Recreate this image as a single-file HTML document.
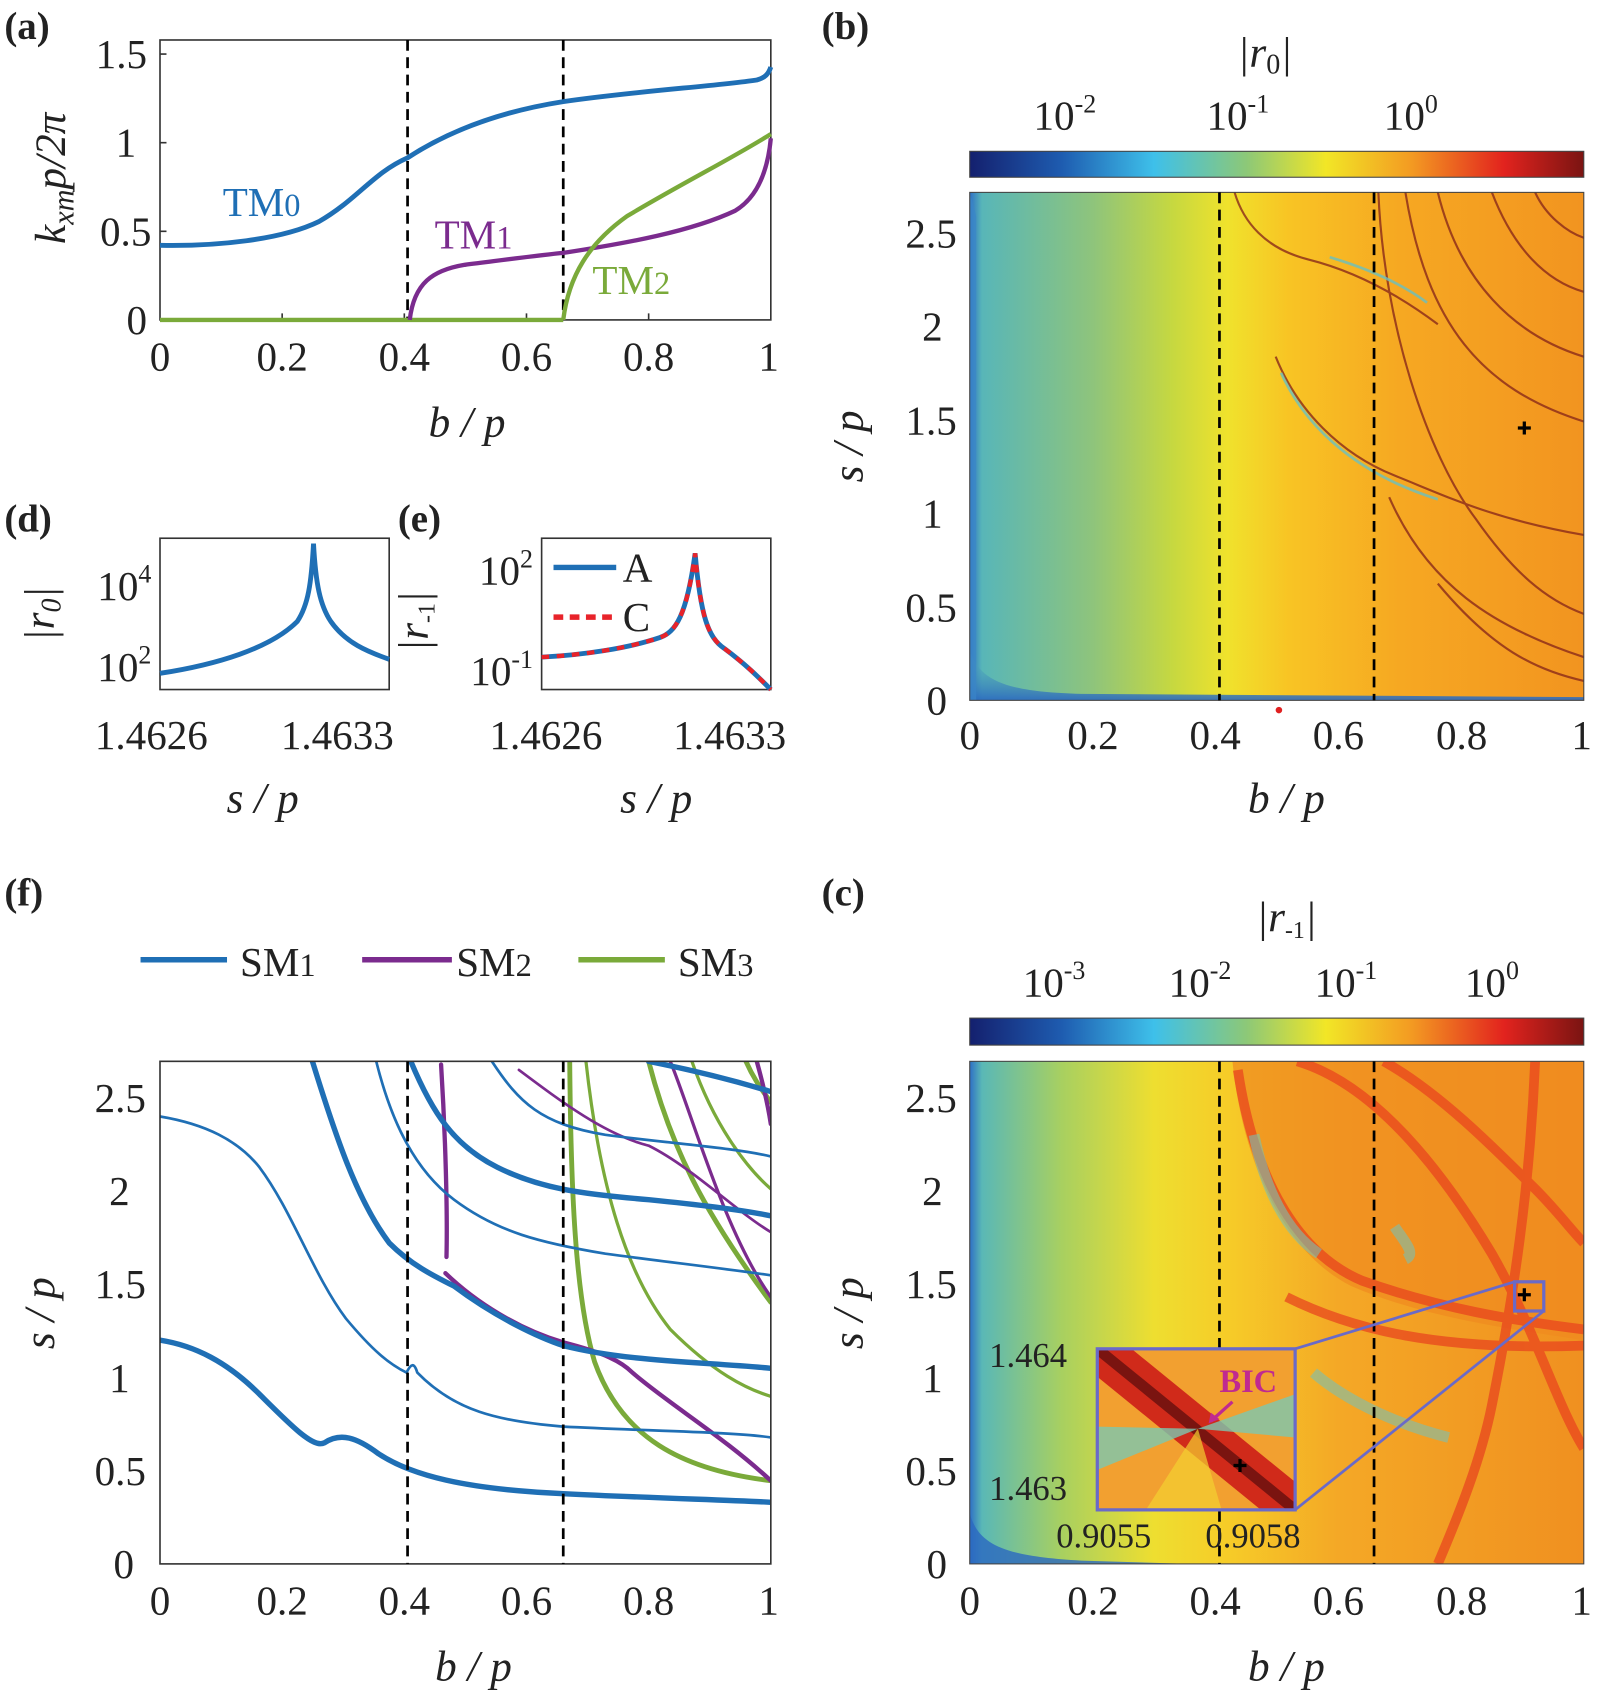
<!DOCTYPE html>
<html><head><meta charset="utf-8"><style>
html,body{margin:0;padding:0;background:#fff;}
svg, svg text{font-family:"Liberation Serif","DejaVu Serif",serif;}
.t{font-size:38px;fill:#222;}
.l{font-size:40px;font-style:italic;fill:#222;}
.p{font-size:36px;font-weight:bold;fill:#222;}
</style></head><body>
<svg width="1600" height="1699" viewBox="0 0 1480 1572" preserveAspectRatio="none" xmlns="http://www.w3.org/2000/svg" font-family="Liberation Serif, serif">
<defs>
<linearGradient id="cb" x1="0" x2="1" y1="0" y2="0">
<stop offset="0" stop-color="#14206e"/><stop offset="0.15" stop-color="#1e5cb0"/><stop offset="0.3" stop-color="#3ec0ea"/>
<stop offset="0.45" stop-color="#8cc878"/><stop offset="0.58" stop-color="#f2e626"/><stop offset="0.72" stop-color="#f39a22"/>
<stop offset="0.87" stop-color="#e2231e"/><stop offset="1" stop-color="#7a1412"/></linearGradient>
<linearGradient id="hb" x1="0" x2="1" y1="0" y2="0">
<stop offset="0" stop-color="#2e70c6"/><stop offset="0.02" stop-color="#58b6b8"/><stop offset="0.2" stop-color="#8ec47c"/>
<stop offset="0.33" stop-color="#c6d840"/><stop offset="0.42" stop-color="#f0e22c"/><stop offset="0.52" stop-color="#f8c424"/>
<stop offset="0.7" stop-color="#f6a822"/><stop offset="1" stop-color="#f29420"/></linearGradient>
<linearGradient id="hc" x1="0" x2="1" y1="0" y2="0">
<stop offset="0" stop-color="#2e70c6"/><stop offset="0.02" stop-color="#5ab8b6"/><stop offset="0.15" stop-color="#a8d060"/>
<stop offset="0.3" stop-color="#eede30"/><stop offset="0.42" stop-color="#f6cc28"/><stop offset="0.6" stop-color="#f4a826"/>
<stop offset="1" stop-color="#f09020"/></linearGradient>
<linearGradient id="bot" x1="0" x2="0" y1="0" y2="1"><stop offset="0" stop-color="#5ab8b6" stop-opacity="0"/><stop offset="1" stop-color="#2a68c0"/></linearGradient>
<clipPath id="cpb"><rect x="897" y="178" width="568" height="470"/></clipPath>
<clipPath id="cpc"><rect x="897" y="982" width="568" height="465"/></clipPath>
<clipPath id="cpf"><rect x="148" y="982" width="565" height="465"/></clipPath>
<clipPath id="cpi"><rect x="1015" y="1248" width="183" height="149"/></clipPath>
</defs>

<!-- (a) -->
<text class="p" x="4" y="36">(a)</text>
<rect x="148" y="37" width="565" height="259" fill="none" stroke="#333" stroke-width="1.5"/>
<g stroke="#333" stroke-width="1.5">
<path d="M261 296v-6M374 296v-6M487 296v-6M600 296v-6M148 214h6M148 132h6M148 50h6"/></g>
<line x1="377" y1="37" x2="377" y2="296" stroke="#000" stroke-width="2.5" stroke-dasharray="10,6"/>
<line x1="521" y1="37" x2="521" y2="296" stroke="#000" stroke-width="2.5" stroke-dasharray="10,6"/>
<path d="M148 296H521" stroke="#7aaa3a" stroke-width="4"/>
<path d="M379 296C383 262 400 250 430 245C470 240 500 236 521 234C580 225 640 214 680 195C700 183 710 160 713 128" fill="none" stroke="#7b2b8e" stroke-width="4"/>
<path d="M521 296C526 255 545 225 580 200C630 170 680 145 713 124" fill="none" stroke="#7aaa3a" stroke-width="4"/>
<path d="M148 227C200 228 260 222 295 205C330 185 345 160 377 146C420 118 470 102 521 94C590 84 660 80 700 74C708 72 711 68 713 62" fill="none" stroke="#1f6fb5" stroke-width="4.5"/>
<text x="206" y="200" font-size="38" fill="#1f6fb5">TM<tspan font-size="30">0</tspan></text>
<text x="402" y="230" font-size="38" fill="#7b2b8e">TM<tspan font-size="30">1</tspan></text>
<text x="548" y="272" font-size="38" fill="#7aaa3a">TM<tspan font-size="30">2</tspan></text>
<g class="t" text-anchor="middle"><text x="148" y="343">0</text><text x="261" y="343">0.2</text><text x="374" y="343">0.4</text><text x="487" y="343">0.6</text><text x="600" y="343">0.8</text><text x="711" y="343">1</text></g>
<g class="t" text-anchor="end"><text x="136" y="309">0</text><text x="140" y="227">0.5</text><text x="126" y="145">1</text><text x="136" y="63">1.5</text></g>
<text class="l" x="432" y="404" text-anchor="middle">b / p</text>
<text class="l" transform="translate(60,165) rotate(-90)" text-anchor="middle">k<tspan font-size="28" dy="8">xm</tspan><tspan dy="-8">p/2π</tspan></text>

<!-- (b) -->
<text class="p" x="760" y="36">(b)</text>
<text class="l" x="1170" y="62" text-anchor="middle">|r<tspan font-size="26" font-style="normal" dy="6">0</tspan><tspan dy="-6">|</tspan></text>
<g class="t" text-anchor="middle"><text x="985" y="120">10<tspan font-size="24" dy="-16">-2</tspan></text><text x="1145" y="120">10<tspan font-size="24" dy="-16">-1</tspan></text><text x="1305" y="120">10<tspan font-size="24" dy="-16">0</tspan></text></g>
<rect x="897" y="140" width="568" height="24" fill="url(#cb)" stroke="#444" stroke-width="1"/>
<g clip-path="url(#cpb)">
<rect x="897" y="178" width="568" height="470" fill="url(#hb)"/>
<path d="M897 648V600C905 630 930 640 1000 642L1465 645V648Z" fill="url(#bot)" opacity="0.9"/>
<path d="M897 178V648H903V200Z" fill="#3a86c8" opacity="0.7"/>
<g fill="none" stroke="#8a2a1a" stroke-width="2" opacity="0.8">
<path d="M1142 178C1150 205 1170 230 1210 240C1250 250 1290 270 1330 300"/>
<path d="M1180 330C1200 380 1240 420 1290 440C1340 460 1380 480 1465 495"/>
<path d="M1275 178C1280 300 1320 420 1365 480C1400 530 1430 555 1465 568"/>
<path d="M1300 178C1320 300 1370 360 1465 390"/>
<path d="M1330 178C1350 260 1400 310 1465 330"/>
<path d="M1380 178C1400 230 1430 260 1465 270"/>
<path d="M1420 178C1430 200 1450 215 1465 220"/>
<path d="M1285 460C1320 540 1380 580 1465 608"/>
<path d="M1330 540C1380 600 1420 620 1465 630"/>
</g>
<g fill="none" stroke="#6ac0c0" stroke-width="2.5" opacity="0.8">
<path d="M1185 345C1210 400 1260 440 1330 462"/><path d="M1230 238C1270 250 1300 265 1320 280"/></g>
<path d="M1410 390v12M1404 396h12" stroke="#000" stroke-width="3"/>
</g>
<rect x="897" y="178" width="568" height="470" fill="none" stroke="#444" stroke-width="1"/>
<line x1="1128" y1="178" x2="1128" y2="648" stroke="#000" stroke-width="2.5" stroke-dasharray="10,6"/>
<line x1="1271" y1="178" x2="1271" y2="648" stroke="#000" stroke-width="2.5" stroke-dasharray="10,6"/>
<circle cx="1183" cy="657" r="3" fill="#e02020"/>
<g class="t" text-anchor="middle"><text x="897" y="693">0</text><text x="1011" y="693">0.2</text><text x="1124" y="693">0.4</text><text x="1238" y="693">0.6</text><text x="1352" y="693">0.8</text><text x="1463" y="693">1</text></g>
<g class="t" text-anchor="end"><text x="876" y="661">0</text><text x="885" y="575">0.5</text><text x="872" y="488">1</text><text x="885" y="402">1.5</text><text x="872" y="315">2</text><text x="885" y="229">2.5</text></g>
<text class="l" x="1190" y="752" text-anchor="middle">b / p</text>
<text class="l" transform="translate(798,413) rotate(-90)" text-anchor="middle">s / p</text>

<!-- (d) -->
<text class="p" x="4" y="492">(d)</text>
<rect x="148" y="498" width="212" height="140" fill="none" stroke="#333" stroke-width="1.5"/>
<path d="M148 623C200 615 250 600 275 575C285 560 288 540 290 503C292 540 296 560 306 575C320 595 340 603 360 610" fill="none" stroke="#1f6fb5" stroke-width="4.5"/>
<g class="t" text-anchor="end"><text x="140" y="555">10<tspan font-size="24" dy="-16">4</tspan></text><text x="140" y="630">10<tspan font-size="24" dy="-16">2</tspan></text></g>
<text class="l" transform="translate(50,568) rotate(-90)" text-anchor="middle">|r<tspan font-size="26" dy="6">0</tspan><tspan dy="-6">|</tspan></text>
<g class="t" text-anchor="middle"><text x="140" y="693">1.4626</text><text x="312" y="693">1.4633</text></g>
<text class="l" x="243" y="752" text-anchor="middle">s / p</text>

<!-- (e) -->
<text class="p" x="368" y="492">(e)</text>
<rect x="501" y="498" width="212" height="140" fill="none" stroke="#333" stroke-width="1.5"/>
<path d="M501 608C540 606 580 600 610 590C625 585 635 570 643 512C648 570 655 590 670 600C690 615 700 625 713 638" fill="none" stroke="#1f6fb5" stroke-width="4.5"/>
<path d="M501 608C540 606 580 600 610 590C625 585 635 570 643 512C648 570 655 590 670 600C690 615 700 625 713 638" fill="none" stroke="#e8232a" stroke-width="4" stroke-dasharray="7,7"/>
<path d="M512 525H570" stroke="#1f6fb5" stroke-width="5"/><text x="576" y="538" class="t">A</text>
<path d="M512 571H570" stroke="#e8232a" stroke-width="5" stroke-dasharray="9,6"/><text x="576" y="584" class="t">C</text>
<g class="t" text-anchor="end"><text x="493" y="541">10<tspan font-size="24" dy="-16">2</tspan></text><text x="493" y="634">10<tspan font-size="24" dy="-16">-1</tspan></text></g>
<text class="l" transform="translate(396,575) rotate(-90)" text-anchor="middle">|r<tspan font-size="22" font-style="normal" dy="6">-1</tspan><tspan dy="-6">|</tspan></text>
<g class="t" text-anchor="middle"><text x="505" y="693">1.4626</text><text x="675" y="693">1.4633</text></g>
<text class="l" x="607" y="752" text-anchor="middle">s / p</text>

<!-- (f) -->
<text class="p" x="4" y="838">(f)</text>
<path d="M130 888H210" stroke="#1f6fb5" stroke-width="5"/><text x="222" y="903" class="t">SM<tspan font-size="30">1</tspan></text>
<path d="M335 888H418" stroke="#7b2b8e" stroke-width="5"/><text x="422" y="903" class="t">SM<tspan font-size="30">2</tspan></text>
<path d="M535 888H615" stroke="#7aaa3a" stroke-width="5"/><text x="627" y="903" class="t">SM<tspan font-size="30">3</tspan></text>
<g clip-path="url(#cpf)" fill="none" stroke-linecap="round">
<g stroke="#7aaa3a">
<path d="M527 982C528 1100 532 1200 550 1260C575 1330 630 1360 713 1370" stroke-width="4.5"/>
<path d="M542 982C555 1100 580 1180 620 1230C660 1270 690 1285 713 1292" stroke-width="3"/>
<path d="M600 982C620 1060 650 1120 713 1205" stroke-width="4.5"/>
<path d="M640 982C660 1040 690 1080 713 1100" stroke-width="3"/>
<path d="M690 982C698 1000 706 1010 713 1020" stroke-width="4.5"/>
</g>
<g stroke="#7b2b8e">
<path d="M408 985C412 1050 414 1120 413 1163" stroke-width="4"/>
<path d="M412 1178C440 1205 480 1230 521 1242C560 1252 575 1260 585 1270C620 1300 670 1330 713 1370" stroke-width="4"/>
<path d="M480 990C520 1020 560 1050 600 1060C640 1080 680 1120 713 1140" stroke-width="2.5"/>
<path d="M620 982C640 1030 670 1140 713 1200" stroke-width="3"/>
<path d="M700 982C705 1000 710 1020 713 1040" stroke-width="4"/>
</g>
<g stroke="#1f6fb5">
<path d="M148 1240C180 1245 210 1260 240 1290C270 1320 290 1340 300 1335C315 1325 330 1330 350 1345C380 1365 430 1378 521 1382C600 1386 680 1388 713 1390" stroke-width="5"/>
<path d="M148 1033C190 1040 220 1055 240 1080C270 1120 290 1180 320 1220C345 1250 360 1262 376 1270C380 1262 383 1260 386 1270C420 1305 460 1315 521 1320C600 1324 680 1325 713 1330" stroke-width="2.5"/>
<path d="M289 982C310 1050 330 1110 360 1150C380 1170 400 1180 420 1190C460 1220 500 1238 521 1245C580 1260 650 1260 713 1266" stroke-width="5"/>
<path d="M348 982C360 1030 380 1080 420 1110C460 1140 500 1150 560 1160C620 1168 680 1175 713 1180" stroke-width="2.5"/>
<path d="M380 982C400 1030 420 1060 460 1080C500 1100 540 1105 600 1110C650 1115 690 1120 713 1125" stroke-width="5"/>
<path d="M455 982C480 1020 500 1040 560 1050C620 1058 680 1062 713 1070" stroke-width="2.5"/>
<path d="M600 982C640 990 680 1000 713 1010" stroke-width="5"/>
</g>
</g>
<rect x="148" y="982" width="565" height="465" fill="none" stroke="#333" stroke-width="1.5"/>
<line x1="377" y1="982" x2="377" y2="1447" stroke="#000" stroke-width="2.5" stroke-dasharray="10,6"/>
<line x1="521" y1="982" x2="521" y2="1447" stroke="#000" stroke-width="2.5" stroke-dasharray="10,6"/>
<g class="t" text-anchor="middle"><text x="148" y="1494">0</text><text x="261" y="1494">0.2</text><text x="374" y="1494">0.4</text><text x="487" y="1494">0.6</text><text x="600" y="1494">0.8</text><text x="711" y="1494">1</text></g>
<g class="t" text-anchor="end"><text x="124" y="1460">0</text><text x="135" y="1374">0.5</text><text x="120" y="1288">1</text><text x="135" y="1201">1.5</text><text x="120" y="1115">2</text><text x="135" y="1029">2.5</text></g>
<text class="l" x="438" y="1555" text-anchor="middle">b / p</text>
<text class="l" transform="translate(50,1215) rotate(-90)" text-anchor="middle">s / p</text>

<!-- (c) -->
<text class="p" x="760" y="838">(c)</text>
<text class="l" x="1190" y="862" text-anchor="middle">|r<tspan font-size="22" font-style="normal" dy="6">-1</tspan><tspan dy="-6">|</tspan></text>
<g class="t" text-anchor="middle"><text x="975" y="922">10<tspan font-size="24" dy="-16">-3</tspan></text><text x="1110" y="922">10<tspan font-size="24" dy="-16">-2</tspan></text><text x="1245" y="922">10<tspan font-size="24" dy="-16">-1</tspan></text><text x="1380" y="922">10<tspan font-size="24" dy="-16">0</tspan></text></g>
<rect x="897" y="942" width="568" height="25" fill="url(#cb)" stroke="#444" stroke-width="1"/>
<g clip-path="url(#cpc)">
<rect x="897" y="982" width="568" height="465" fill="url(#hc)"/>
<path d="M897 1447V1400C905 1430 930 1440 1000 1444L1100 1447Z" fill="#2a68c0" opacity="0.8"/>
<path d="M1140 982C1150 1080 1190 1160 1250 1190C1320 1220 1400 1230 1465 1240V982Z" fill="#f08a20" opacity="0.7"/>
<g fill="none" stroke="#e8401e" stroke-width="9" opacity="0.7">
<path d="M1145 990C1160 1090 1200 1160 1260 1185C1330 1210 1400 1222 1465 1230"/>
<path d="M1200 982C1260 1000 1320 1060 1380 1160C1420 1230 1440 1300 1465 1340"/>
<path d="M1280 982C1330 1010 1380 1060 1420 1100C1440 1120 1455 1140 1465 1150"/>
<path d="M1190 1200C1250 1230 1330 1250 1465 1245"/>
<path d="M1420 982C1415 1100 1400 1200 1380 1300C1370 1350 1350 1400 1330 1447"/>
</g>
<g fill="none" stroke="#7cc0b0" stroke-width="10" opacity="0.6">
<path d="M1215 1270C1250 1300 1300 1320 1340 1330"/>
<path d="M1160 1050C1170 1100 1190 1140 1220 1160"/>
<path d="M1290 1135C1300 1150 1310 1160 1300 1165"/>
</g>
<path d="M1410 1192v12M1404 1198h12" stroke="#000" stroke-width="3"/>
</g>
<rect x="897" y="982" width="568" height="465" fill="none" stroke="#444" stroke-width="1"/>
<line x1="1128" y1="982" x2="1128" y2="1447" stroke="#000" stroke-width="2.5" stroke-dasharray="10,6"/>
<line x1="1271" y1="982" x2="1271" y2="1447" stroke="#000" stroke-width="2.5" stroke-dasharray="10,6"/>
<!-- inset -->
<g clip-path="url(#cpi)">
<rect x="1015" y="1248" width="183" height="149" fill="#f2a030"/>
<path d="M1015 1248L1198 1397" stroke="#d02a1a" stroke-width="40"/>
<path d="M1015 1248L1198 1397" stroke="#7a1410" stroke-width="10"/>
<path d="M1015 1320L1108 1322L1015 1360Z" fill="#7cc8b0" opacity="0.8"/>
<path d="M1198 1290L1108 1322L1198 1330Z" fill="#7cc8b0" opacity="0.8"/>
<path d="M1108 1322L1060 1397H1130Z" fill="#f4d030" opacity="0.7"/>
</g>
<rect x="1015" y="1248" width="183" height="149" fill="none" stroke="#6a6ac8" stroke-width="3"/>
<rect x="1401" y="1186" width="27" height="27" fill="none" stroke="#6a6ac8" stroke-width="3"/>
<path d="M1198 1248L1401 1186M1198 1397L1428 1213" stroke="#6a6ac8" stroke-width="2.5"/>
<path d="M1147 1350v12M1141 1356h12" stroke="#000" stroke-width="3"/>
<text x="1128" y="1288" font-size="30" font-weight="bold" fill="#c02a90">BIC</text>
<path d="M1140 1297L1120 1315" stroke="#c02a90" stroke-width="3"/><path d="M1118 1317l2-10 8 6z" fill="#c02a90"/>
<g font-size="32" fill="#222"><text x="915" y="1265">1.464</text><text x="915" y="1388">1.463</text><text x="977" y="1432">0.9055</text><text x="1115" y="1432">0.9058</text></g>
<g class="t" text-anchor="middle"><text x="897" y="1494">0</text><text x="1011" y="1494">0.2</text><text x="1124" y="1494">0.4</text><text x="1238" y="1494">0.6</text><text x="1352" y="1494">0.8</text><text x="1463" y="1494">1</text></g>
<g class="t" text-anchor="end"><text x="876" y="1460">0</text><text x="885" y="1374">0.5</text><text x="872" y="1288">1</text><text x="885" y="1201">1.5</text><text x="872" y="1115">2</text><text x="885" y="1029">2.5</text></g>
<text class="l" x="1190" y="1555" text-anchor="middle">b / p</text>
<text class="l" transform="translate(798,1215) rotate(-90)" text-anchor="middle">s / p</text>
</svg>
</body></html>
